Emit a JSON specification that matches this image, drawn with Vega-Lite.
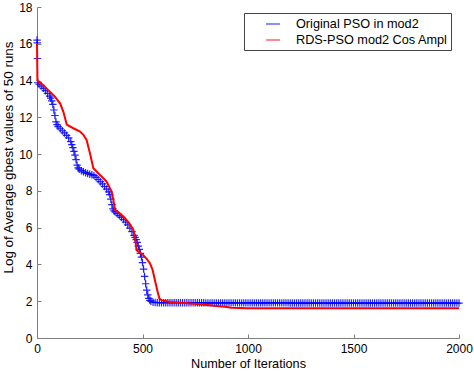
{
 "$schema": "https://vega.github.io/schema/vega-lite/v6.json",
 "width": 422, "height": 331,
 "autosize": {"type": "none"},
 "padding": {"left": 37, "top": 7, "right": 15, "bottom": 33},
 "background": "white",
 "config": {
  "view": {"stroke": null},
  "font": "Liberation Sans",
  "axis": {"grid": false, "domainColor": "#7f7f7f", "tickColor": "#7f7f7f", "tickSize": -4, "labelPadding": 9, "labelFontSize": 12, "labelColor": "black", "titleFontWeight": "normal", "titleColor": "black", "labelFlush": false, "labelOverlap": false, "labelFont": "Liberation Sans", "titleFont": "Liberation Sans"},
  "legend": {"symbolSize": 196}
 },
 "datasets": {
  "orig": [
   {"i":0,"v":16.2},{"i":1,"v":16.05},{"i":2,"v":15.2},{"i":4,"v":13.88},{"i":10,"v":13.8},{"i":20,"v":13.7},{"i":30,"v":13.58},{"i":40,"v":13.45},{"i":50,"v":13.3},{"i":60,"v":13.15},{"i":65,"v":13.05},{"i":70,"v":12.9},{"i":75,"v":12.7},{"i":80,"v":12.4},{"i":85,"v":12.1},{"i":90,"v":11.75},{"i":95,"v":11.6},{"i":100,"v":11.5},{"i":110,"v":11.38},{"i":120,"v":11.27},{"i":130,"v":11.15},{"i":140,"v":11.02},{"i":150,"v":10.88},{"i":160,"v":10.68},{"i":165,"v":10.52},{"i":170,"v":10.35},{"i":175,"v":10.15},{"i":180,"v":9.95},{"i":185,"v":9.7},{"i":190,"v":9.4},{"i":195,"v":9.25},{"i":200,"v":9.18},{"i":210,"v":9.1},{"i":220,"v":9.04},{"i":230,"v":8.99},{"i":240,"v":8.95},{"i":250,"v":8.91},{"i":260,"v":8.88},{"i":270,"v":8.83},{"i":280,"v":8.73},{"i":290,"v":8.62},{"i":300,"v":8.5},{"i":310,"v":8.38},{"i":320,"v":8.24},{"i":330,"v":8.1},{"i":340,"v":7.95},{"i":345,"v":7.8},{"i":350,"v":7.55},{"i":355,"v":7.25},{"i":360,"v":7.02},{"i":365,"v":6.92},{"i":370,"v":6.86},{"i":380,"v":6.76},{"i":390,"v":6.66},{"i":400,"v":6.56},{"i":410,"v":6.44},{"i":420,"v":6.3},{"i":430,"v":6.15},{"i":440,"v":5.98},{"i":450,"v":5.78},{"i":460,"v":5.58},{"i":465,"v":5.47},{"i":470,"v":5.35},{"i":475,"v":5.2},{"i":480,"v":5.0},{"i":485,"v":4.82},{"i":490,"v":4.6},{"i":495,"v":4.4},{"i":500,"v":4.1},{"i":505,"v":3.75},{"i":510,"v":3.35},{"i":515,"v":2.95},{"i":520,"v":2.6},{"i":525,"v":2.35},{"i":530,"v":2.15},{"i":535,"v":2.05},{"i":540,"v":2.0},{"i":550,"v":1.95},{"i":560,"v":1.93},{"i":570,"v":1.92},
   {"i":580,"v":1.92},{"i":590,"v":1.92},{"i":600,"v":1.92},{"i":610,"v":1.92},{"i":620,"v":1.92},{"i":630,"v":1.92},{"i":640,"v":1.92},{"i":650,"v":1.92},{"i":660,"v":1.92},{"i":670,"v":1.92},{"i":680,"v":1.92},{"i":690,"v":1.92},{"i":700,"v":1.92},{"i":710,"v":1.92},{"i":720,"v":1.92},{"i":730,"v":1.92},{"i":740,"v":1.92},{"i":750,"v":1.92},{"i":760,"v":1.92},{"i":770,"v":1.92},{"i":780,"v":1.92},{"i":790,"v":1.92},{"i":800,"v":1.91},{"i":810,"v":1.91},{"i":820,"v":1.91},{"i":830,"v":1.91},{"i":840,"v":1.91},{"i":850,"v":1.91},{"i":860,"v":1.91},{"i":870,"v":1.91},{"i":880,"v":1.91},{"i":890,"v":1.91},{"i":900,"v":1.91},{"i":910,"v":1.91},{"i":920,"v":1.91},{"i":930,"v":1.91},{"i":940,"v":1.91},{"i":950,"v":1.91},{"i":960,"v":1.91},{"i":970,"v":1.91},{"i":980,"v":1.91},{"i":990,"v":1.91},{"i":1000,"v":1.91},{"i":1010,"v":1.91},{"i":1020,"v":1.91},{"i":1030,"v":1.91},{"i":1040,"v":1.91},{"i":1050,"v":1.91},{"i":1060,"v":1.91},{"i":1070,"v":1.91},{"i":1080,"v":1.91},{"i":1090,"v":1.91},{"i":1100,"v":1.91},{"i":1110,"v":1.91},{"i":1120,"v":1.91},{"i":1130,"v":1.91},{"i":1140,"v":1.91},{"i":1150,"v":1.91},{"i":1160,"v":1.91},{"i":1170,"v":1.91},{"i":1180,"v":1.91},{"i":1190,"v":1.91},{"i":1200,"v":1.9},{"i":1210,"v":1.9},{"i":1220,"v":1.9},{"i":1230,"v":1.9},{"i":1240,"v":1.9},{"i":1250,"v":1.9},{"i":1260,"v":1.9},{"i":1270,"v":1.9},{"i":1280,"v":1.9},{"i":1290,"v":1.9},{"i":1300,"v":1.9},{"i":1310,"v":1.9},{"i":1320,"v":1.9},{"i":1330,"v":1.9},{"i":1340,"v":1.9},{"i":1350,"v":1.9},{"i":1360,"v":1.9},{"i":1370,"v":1.9},{"i":1380,"v":1.9},{"i":1390,"v":1.9},{"i":1400,"v":1.9},{"i":1410,"v":1.9},{"i":1420,"v":1.9},{"i":1430,"v":1.9},{"i":1440,"v":1.9},{"i":1450,"v":1.9},{"i":1460,"v":1.9},{"i":1470,"v":1.9},{"i":1480,"v":1.9},{"i":1490,"v":1.9},{"i":1500,"v":1.9},{"i":1510,"v":1.9},{"i":1520,"v":1.9},{"i":1530,"v":1.9},{"i":1540,"v":1.9},{"i":1550,"v":1.9},{"i":1560,"v":1.9},{"i":1570,"v":1.9},{"i":1580,"v":1.9},{"i":1590,"v":1.9},{"i":1600,"v":1.9},{"i":1610,"v":1.9},{"i":1620,"v":1.9},{"i":1630,"v":1.9},{"i":1640,"v":1.9},{"i":1650,"v":1.9},{"i":1660,"v":1.9},{"i":1670,"v":1.9},{"i":1680,"v":1.9},{"i":1690,"v":1.9},{"i":1700,"v":1.9},{"i":1710,"v":1.9},{"i":1720,"v":1.9},{"i":1730,"v":1.9},{"i":1740,"v":1.9},{"i":1750,"v":1.9},{"i":1760,"v":1.9},{"i":1770,"v":1.9},{"i":1780,"v":1.9},{"i":1790,"v":1.9},{"i":1800,"v":1.9},{"i":1810,"v":1.9},{"i":1820,"v":1.9},{"i":1830,"v":1.9},{"i":1840,"v":1.9},{"i":1850,"v":1.9},{"i":1860,"v":1.9},{"i":1870,"v":1.9},{"i":1880,"v":1.9},{"i":1890,"v":1.9},{"i":1900,"v":1.9},{"i":1910,"v":1.9},{"i":1920,"v":1.9},{"i":1930,"v":1.9},{"i":1940,"v":1.9},{"i":1950,"v":1.9},{"i":1960,"v":1.9},{"i":1970,"v":1.9},{"i":1980,"v":1.9},{"i":1990,"v":1.9},{"i":2000,"v":1.9}
  ],
  "rds": [
   {"i":0,"v":16.0},{"i":1,"v":15.1},{"i":2,"v":14.0},{"i":6,"v":13.95},{"i":30,"v":13.75},{"i":60,"v":13.4},{"i":85,"v":13.13},{"i":110,"v":12.75},{"i":125,"v":12.3},{"i":141,"v":11.6},{"i":170,"v":11.42},{"i":204,"v":11.23},{"i":220,"v":11.05},{"i":235,"v":10.77},{"i":251,"v":10.05},{"i":267,"v":9.23},{"i":300,"v":8.85},{"i":330,"v":8.5},{"i":354,"v":7.96},{"i":362,"v":7.5},{"i":370,"v":6.96},{"i":395,"v":6.75},{"i":417,"v":6.51},{"i":440,"v":6.2},{"i":457,"v":5.87},{"i":465,"v":5.4},{"i":472,"v":4.78},{"i":490,"v":4.62},{"i":504,"v":4.5},{"i":520,"v":4.3},{"i":536,"v":4.05},{"i":548,"v":3.7},{"i":559,"v":3.14},{"i":570,"v":2.6},{"i":580,"v":2.15},{"i":591,"v":2.05},{"i":630,"v":1.96},{"i":700,"v":1.9},{"i":772,"v":1.84},{"i":840,"v":1.76},{"i":899,"v":1.69},{"i":920,"v":1.64},{"i":1000,"v":1.62},{"i":2000,"v":1.62}
  ]
 },
 "encoding": {
  "x": {"field": "i", "type": "quantitative", "scale": {"domain": [0, 2000], "nice": false, "zero": false},
        "axis": {"title": "Number of Iterations", "values": [0, 500, 1000, 1500, 2000], "format": "d", "titlePadding": 3, "titleFontSize": 12.7}},
  "y": {"field": "v", "type": "quantitative", "scale": {"domain": [0, 18], "nice": false},
        "axis": {"title": "Log of Average gbest values of 50 runs", "values": [0, 2, 4, 6, 8, 10, 12, 14, 16, 18], "titleFontSize": 13.4, "titleX": -22, "titleY": 150, "titleAngle": -90, "titleAlign": "center", "titleBaseline": "bottom"}}
 },
 "layer": [
  {"data": {"name": "orig"},
   "mark": {"type": "line", "strokeWidth": 0.6, "opacity": 0.6},
   "encoding": {"color": {"datum": "Original PSO in mod2", "type": "nominal",
     "scale": {"domain": ["Original PSO in mod2", "RDS-PSO mod2 Cos Ampl"], "range": ["#0000ff", "#ff0000"]},
     "legend": {"title": null, "orient": "none", "legendX": 207, "legendY": 6, "strokeColor": "#444444", "fillColor": "white", "padding": 3, "rowPadding": 1, "symbolOffset": 18, "labelOffset": 15, "labelFontSize": 12.7, "labelFont": "Liberation Sans", "labelColor": "black", "symbolSize": 196,
       "encode": {"symbols": {"update": {
         "shape": {"signal": "datum.value === 'Original PSO in mod2' ? 'M-2.86,0H2.86M0,-0.5V0.5' : 'M-2.86,0H2.86M-0.12,0H0.12'"},
         "strokeWidth": {"signal": "datum.value === 'Original PSO in mod2' ? 0.8 : 1.5"},
         "fill": {"value": "transparent"}, "opacity": {"value": 1}}}}}}}},
  {"data": {"name": "orig"},
   "mark": {"type": "point", "shape": "M-1,0H1M0,-1V1", "size": 56, "filled": false, "strokeWidth": 1.2, "opacity": 0.85},
   "encoding": {"color": {"datum": "Original PSO in mod2", "type": "nominal"}}},
  {"data": {"name": "rds"},
   "mark": {"type": "line", "strokeWidth": 2},
   "encoding": {"color": {"datum": "RDS-PSO mod2 Cos Ampl", "type": "nominal"}}}
 ]
}
